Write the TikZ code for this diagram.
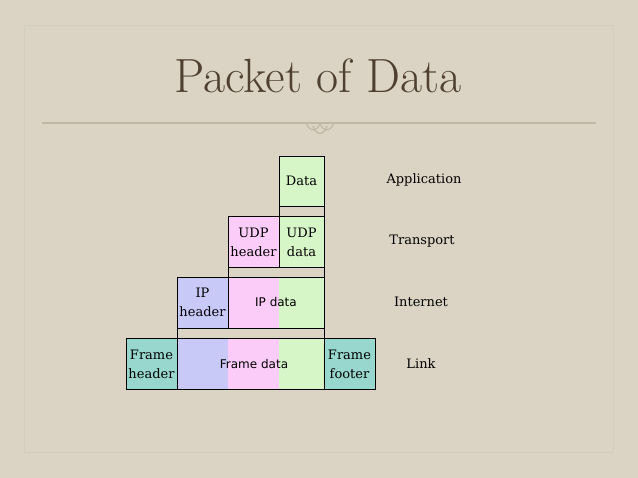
\documentclass[tikz,border=0pt]{standalone}
\usepackage{fontspec}
\setmainfont{DejaVu Serif}
\newfontfamily\titlefont{Latin Modern Roman}
\newfontfamily\labsans{DejaVu Sans}
\begin{document}
\begin{tikzpicture}[x=1pt,y=-1pt,
  cell/.style={draw=black,line width=0.8pt},
  txt/.style={font=\fontsize{13}{19}\selectfont,align=center,inner sep=0pt},
  lay/.style={font=\fontsize{13}{15}\selectfont,inner sep=0pt}]
\definecolor{bg}{RGB}{219,212,196}
\definecolor{gr}{RGB}{214,246,200}
\definecolor{pk}{RGB}{251,204,247}
\definecolor{lv}{RGB}{201,201,248}
\definecolor{tl}{RGB}{152,215,206}
\definecolor{ttl}{RGB}{80,64,50}
\definecolor{orn}{RGB}{192,184,167}
\useasboundingbox (0,0) rectangle (638,478);
\fill[bg] (0,0) rectangle (638,478);
\draw[draw=orn!70,line width=0.6pt] (24,25) rectangle (613,452);
\node[font=\titlefont\fontsize{48}{52}\selectfont,text=ttl] (title) at (318,76) {Packet of Data};
\draw[orn,line width=2pt] (42,123) -- (596,123);
\draw[orn,line width=1.2pt] (306,123) .. controls (310,132) and (316,132) .. (320,124)
  .. controls (324,132) and (330,132) .. (334,123);
\draw[orn,line width=1.2pt] (313,126) .. controls (316,136) and (324,136) .. (327,126);
% fills
\fill[gr] (279,156) rectangle (324,206);
\fill[pk] (228,216) rectangle (279,267);
\fill[gr] (279,216) rectangle (324,267);
\fill[lv] (177,277) rectangle (228,328);
\fill[pk] (228,277) rectangle (279,328);
\fill[gr] (279,277) rectangle (324,328);
\fill[tl] (126,338) rectangle (177,389);
\fill[lv] (177,338) rectangle (228,389);
\fill[pk] (228,338) rectangle (279,389);
\fill[gr] (279,338) rectangle (324,389);
\fill[tl] (324,338) rectangle (375,389);
% outlines
\draw[cell] (279,156) rectangle (324,206);
\draw[cell] (279,206) rectangle (324,216);
\draw[cell] (228,216) rectangle (279,267);
\draw[cell] (279,216) rectangle (324,267);
\draw[cell] (228,267) rectangle (324,277);
\draw[cell] (177,277) rectangle (228,328);
\draw[cell] (228,277) rectangle (324,328);
\draw[cell] (177,328) rectangle (324,338);
\draw[cell] (126,338) rectangle (177,389);
\draw[cell] (177,338) rectangle (324,389);
\draw[cell] (324,338) rectangle (375,389);
% texts
\node[txt] (data) at (301.5,181) {Data};
\node[txt] (udph) at (253.5,242) {UDP\\header};
\node[txt] (udpd) at (301.5,242) {UDP\\data};
\node[txt] (iph) at (202.5,302) {IP\\header};
\node[txt,font=\labsans\fontsize{12}{14}\selectfont] (ipd) at (276,302) {IP data};
\node[txt] (fh) at (151.5,364) {Frame\\header};
\node[txt,font=\labsans\fontsize{12}{14}\selectfont] (fd) at (254,364) {Frame data};
\node[txt] (ff) at (349.5,364) {Frame\\footer};
\node[lay] (app) at (424,180) {Application};
\node[lay] (tr) at (422,241) {Transport};
\node[lay] (in) at (421,302) {Internet};
\node[lay] (ln) at (421,364) {Link};
\end{tikzpicture}
\end{document}
